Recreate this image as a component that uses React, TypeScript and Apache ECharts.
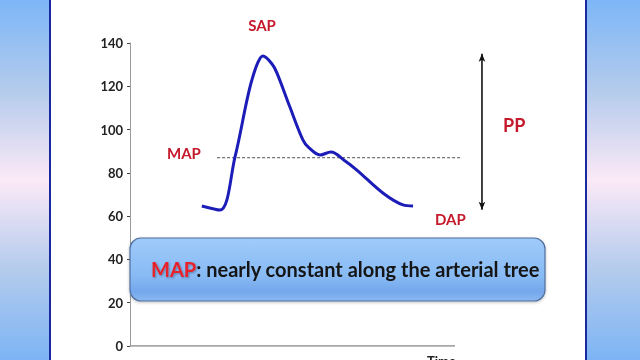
import React, { useEffect, useRef } from "react";
import * as echarts from "echarts";

// Time (ms, arbitrary cycle units) and arterial pressure (mmHg)
const timeMs = [221, 277, 323, 360, 375, 394, 409, 437, 452, 492, 532, 548, 585, 618, 662, 698, 778, 840, 871];
const pressureMmHg = [64.7, 62.8, 87.3, 113.7, 122.9, 131.2, 134.0, 130.3, 126.2, 110.4, 95.2, 92.0, 88.3, 89.6, 85.5, 81.3, 70.7, 65.2, 64.7];
const yTicks = [0, 20, 40, 60, 80, 100, 120, 140];
const timeAxisEnd = 1000;
const mapLevel = 87;
const mapSpan = [268, 1015];
const sapLevel = 135;
const dapLevel = 63;
const ppTime = 1083;

const RED = "#c41a2b";
const FONT = "Lato, 'Open Sans', sans-serif";

export default function App() {
  const ref = useRef<HTMLDivElement>(null);
  useEffect(() => {
    if (!ref.current) return;
    const chart = echarts.init(ref.current, null, { renderer: "svg" });
    const bandGrad = new echarts.graphic.LinearGradient(0, 0, 0, 1, [
      { offset: 0, color: "#7db6f7" },
      { offset: 0.25, color: "#b3cbec" },
      { offset: 0.5, color: "#fbe9f7" },
      { offset: 0.75, color: "#b3cbec" },
      { offset: 1, color: "#7db4f5" },
    ]);
    const boxGrad = new echarts.graphic.LinearGradient(0, 0, 0, 1, [
      { offset: 0, color: "#9fcbfa" },
      { offset: 0.6, color: "#88baf4" },
      { offset: 0.85, color: "#74a7ec" },
      { offset: 1, color: "#8ab8f0" },
    ]);
    chart.setOption({
      animation: false,
      grid: { left: 130, right: 152.5, top: 43, bottom: 14, containLabel: false },
      xAxis: {
        type: "value",
        min: 0,
        max: 1100,
        axisLine: { show: false },
        axisTick: { show: false },
        axisLabel: { show: false },
        splitLine: { show: false },
      },
      yAxis: {
        type: "value",
        min: 0,
        max: 140,
        interval: 20,
        axisLine: { show: true, lineStyle: { color: "#9a9a9a", width: 1 } },
        axisTick: { show: true, length: 3, lineStyle: { color: "#444" } },
        axisLabel: {
          color: "#222",
          fontSize: 13,
          fontWeight: "bold",
          fontFamily: FONT,
          margin: 7,
          formatter: (v: number) => (yTicks.includes(v) ? String(v) : ""),
        },
        splitLine: { show: false },
      },
      series: [
        {
          type: "line",
          data: [[0, 0], [timeAxisEnd, 0]],
          showSymbol: false,
          lineStyle: { color: "#8a8a8a", width: 1.5 },
          z: 3,
        },
        {
          type: "line",
          data: timeMs.map((t, i) => [t, pressureMmHg[i]]),
          smooth: 0.35,
          showSymbol: false,
          lineStyle: { color: "#1c1cb8", width: 3 },
          z: 5,
        },
        {
          type: "line",
          data: mapSpan.map((t) => [t, mapLevel]),
          showSymbol: false,
          lineStyle: { color: "#222", width: 0.8, type: [3, 2] },
          z: 4,
        },
        {
          type: "line",
          data: [
            { value: [ppTime, sapLevel], symbolRotate: 0 },
            { value: [ppTime, dapLevel], symbolRotate: 180 },
          ],
          showSymbol: true,
          symbol: "arrow",
          symbolSize: [5, 8],
          itemStyle: { color: "#111" },
          lineStyle: { color: "#111", width: 1.6 },
          z: 4,
        },
      ],
      graphic: [
        { type: "rect", z: -20, shape: { x: 0, y: 0, width: 640, height: 360 }, style: { fill: bandGrad } },
        { type: "rect", z: -19, shape: { x: 50, y: 0, width: 536, height: 360 }, style: { fill: "#ffffff" } },
        { type: "line", z: -18, shape: { x1: 50, y1: 0, x2: 50, y2: 360 }, style: { stroke: "#1a2a9e", lineWidth: 2 } },
        { type: "line", z: -18, shape: { x1: 586, y1: 0, x2: 586, y2: 360 }, style: { stroke: "#1a2a9e", lineWidth: 2 } },
        {
          type: "text", z: 10, x: 262, y: 25,
          style: { text: "SAP", fill: RED, font: `bold 15px ${FONT}`, align: "center", verticalAlign: "middle" },
        },
        {
          type: "text", z: 10, x: 167, y: 153,
          style: { text: "MAP", fill: RED, font: `bold 15px ${FONT}`, align: "left", verticalAlign: "middle" },
        },
        {
          type: "text", z: 10, x: 503, y: 125,
          style: { text: "PP", fill: RED, font: `bold 18px ${FONT}`, align: "left", verticalAlign: "middle" },
        },
        {
          type: "text", z: 10, x: 435, y: 219,
          style: { text: "DAP", fill: RED, font: `bold 15px ${FONT}`, align: "left", verticalAlign: "middle" },
        },
        {
          type: "text", z: 10, x: 427, y: 354,
          style: { text: "Time", fill: "#222", font: `bold 13px ${FONT}`, align: "left", verticalAlign: "top" },
        },
        {
          type: "rect", z: 50,
          shape: { x: 130, y: 238, width: 415, height: 63, r: 11 },
          style: { fill: boxGrad, stroke: "#50709e", lineWidth: 1.2, shadowBlur: 3, shadowColor: "rgba(0,0,0,0.25)", shadowOffsetY: 1 },
        },
        {
          type: "text", z: 51, x: 151, y: 269,
          style: {
            text: "{r|MAP}{d|: nearly constant along the arterial tree}",
            verticalAlign: "middle",
            align: "left",
            rich: {
              r: { fill: "#e8202a", font: `bold 20px ${FONT}`, textShadowBlur: 2, textShadowColor: "rgba(0,0,0,0.35)", textShadowOffsetX: 1, textShadowOffsetY: 1 },
              d: { fill: "#151515", font: `bold 20px ${FONT}` },
            },
          },
        },
      ],
    });
    return () => chart.dispose();
  }, []);
  return <div ref={ref} style={{ position: "fixed", left: 0, top: 0, width: 640, height: 360 }} />;
}
